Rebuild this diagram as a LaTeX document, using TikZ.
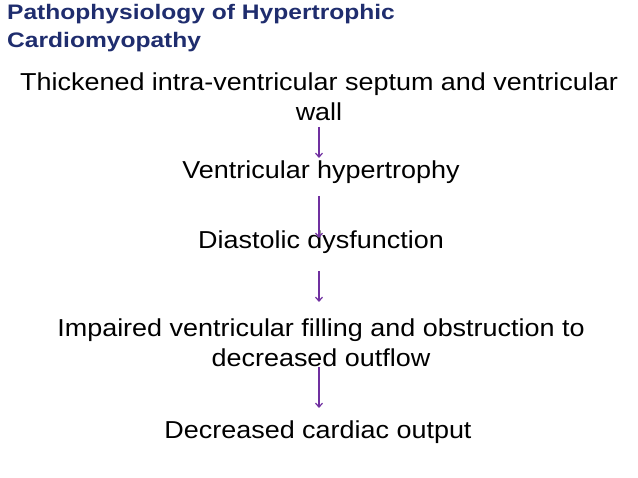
\documentclass[tikz,border=0pt]{standalone}
\usepackage{fontspec}
\setmainfont{Liberation Sans}
\newfontfamily\titlefont[FakeStretch=1.17]{Liberation Sans}
\newfontfamily\bodyfont[FakeStretch=1.1]{Liberation Sans}
\usetikzlibrary{arrows.meta}
\definecolor{titleblue}{HTML}{1F2D6E}
\definecolor{arrowpurple}{HTML}{7030A0}
\tikzset{
  titletext/.style={anchor=base west, inner sep=0pt, font=\titlefont\fontsize{21}{25}\selectfont\bfseries, text=titleblue},
  steptext/.style={inner sep=0pt, align=center, font=\bodyfont\fontsize{24.5}{30}\selectfont, text=black},
  flowarrow/.style={draw=arrowpurple, line width=1.2pt, -{Straight Barb[length=4pt,width=7pt]}}
}
\begin{document}
\begin{tikzpicture}[x=1pt,y=-1pt]
\useasboundingbox (0,0) rectangle (638,478);
\node[titletext] (t1) at (7,20) {Pathophysiology of Hypertrophic};
\node[titletext] (t2) at (7,48) {Cardiomyopathy};
\node[steptext] (s1) at (319,97) {Thickened intra-ventricular septum and ventricular\\wall};
\node[steptext] (s2) at (321,172) {Ventricular hypertrophy};
\node[steptext] (s3) at (321,242) {Diastolic dysfunction};
\node[steptext] (s4) at (321,343) {Impaired ventricular filling and obstruction to\\decreased outflow};
\node[steptext] (s5) at (318,432) {Decreased cardiac output};
\coordinate (a1s) at (319,127); \coordinate (a1e) at (319,158);
\coordinate (a2s) at (319,196); \coordinate (a2e) at (319,238);
\coordinate (a3s) at (319,271); \coordinate (a3e) at (319,302);
\coordinate (a4s) at (319,367); \coordinate (a4e) at (319,408);
\draw[flowarrow] (a1s) -- (a1e);
\draw[flowarrow] (a2s) -- (a2e);
\draw[flowarrow] (a3s) -- (a3e);
\draw[flowarrow] (a4s) -- (a4e);
\end{tikzpicture}
\end{document}
